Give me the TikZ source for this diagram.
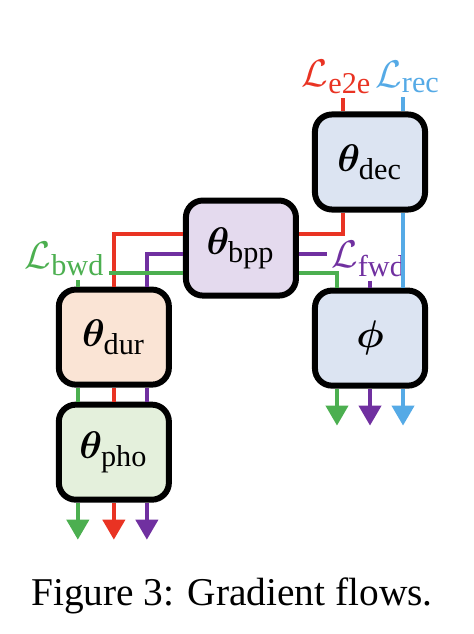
\documentclass[tikz,border=0pt]{standalone}
\usepackage{fontspec}
\setmainfont{Liberation Serif}
\usepackage{amsmath}
\usepackage{bm}
\DeclareMathSizes{10.5}{10.5}{8.6}{6.5}
\usetikzlibrary{positioning, arrows.meta}
\definecolor{e2ecol}{RGB}{233,51,35}
\definecolor{reccol}{RGB}{85,170,230}
\definecolor{bwdcol}{RGB}{76,175,80}
\definecolor{fwdcol}{RGB}{112,48,160}
\definecolor{decfill}{RGB}{220,228,242}
\definecolor{bppfill}{RGB}{228,218,238}
\definecolor{durfill}{RGB}{250,228,213}
\definecolor{phofill}{RGB}{228,240,220}
\tikzset{
  block/.style = {draw, rectangle, rounded corners=0.17cm, line width=1.7pt,
    minimum width=1.10cm, minimum height=0.95cm, font=\fontsize{10.5}{12}\selectfont},
  loss/.style = {inner sep=1pt, font=\fontsize{10.5}{12}\selectfont},
  flow/.style = {line width=1.15pt},
  grad/.style = {flow, -{Triangle[width=0.22cm, length=0.2cm]}}
}

\begin{document}
\begin{tikzpicture}[x=0.01cm, y=-0.01cm, on grid]
  \useasboundingbox (0,0) rectangle (474,634);

  \node [block, fill=decfill] (dec) at (370,162) {$\bm{\theta}_{\mathrm{dec}}$};
  \node [block, fill=bppfill, below left=0.86cm and 1.29cm of dec] (bpp) {$\bm{\theta}_{\mathrm{bpp}}$};
  \node [block, fill=durfill, below left=0.89cm and 1.27cm of bpp] (dur) {$\bm{\theta}_{\mathrm{dur}}$};
  \node [block, fill=phofill, below=1.15cm of dur] (pho) {$\bm{\theta}_{\mathrm{pho}}$};
  \node [block, fill=decfill, below=1.76cm of dec] (phi) {$\bm{\phi}$};

  \node [loss, text=e2ecol] (le2e) at (337,77) {$\mathcal{L}_{\mathrm{e2e}}$};
  \node [loss, text=reccol] (lrec) at (408,77) {$\mathcal{L}_{\mathrm{rec}}$};
  \node [loss, text=fwdcol] (lfwd) at (369,259) {$\mathcal{L}_{\mathrm{fwd}}$};
  \node [loss, text=bwdcol] (lbwd) at (65,259) {$\mathcal{L}_{\mathrm{bwd}}$};

  % e2e
  \draw [flow, e2ecol] ([xshift=-0.27cm]dec.north) -- ([xshift=-0.27cm]dec.north |- le2e.south);
  \draw [flow, e2ecol] ([xshift=-0.27cm]dec.south) |- ([yshift=0.14cm]bpp.east);
  \draw [flow, e2ecol] ([yshift=0.14cm]bpp.west) -| (dur.north);
  \draw [flow, e2ecol] (dur.south) -- (pho.north);
  \draw [grad, e2ecol] (pho.south) -- ++(0,37);

  % rec
  \draw [flow, reccol] ([xshift=0.33cm]dec.north) -- ([xshift=0.33cm]dec.north |- lrec.south);
  \draw [flow, reccol] ([xshift=0.33cm]dec.south) -- ([xshift=0.33cm]phi.north);
  \draw [grad, reccol] ([xshift=0.33cm]phi.south) -- ++(0,37);

  % fwd
  \draw [flow, fwdcol] ([yshift=-0.06cm]bpp.east) -- ([yshift=-0.06cm]bpp.east -| lfwd.west);
  \draw [flow, fwdcol] (lfwd.south -| phi.north) -- (phi.north);
  \draw [grad, fwdcol] (phi.south) -- ++(0,37);
  \draw [flow, fwdcol] ([yshift=-0.06cm]bpp.west) -| ([xshift=0.33cm]dur.north);
  \draw [flow, fwdcol] ([xshift=0.33cm]dur.south) -- ([xshift=0.33cm]pho.north);
  \draw [grad, fwdcol] ([xshift=0.33cm]pho.south) -- ++(0,37);

  % bwd
  \draw [flow, bwdcol] ([yshift=-0.25cm]bpp.east) -| ([xshift=-0.33cm]phi.north);
  \draw [grad, bwdcol] ([xshift=-0.33cm]phi.south) -- ++(0,37);
  \draw [flow, bwdcol] ([yshift=-0.25cm]bpp.west) -- ([yshift=-0.25cm]bpp.west -| lbwd.east);
  \draw [flow, bwdcol] ([xshift=-0.36cm]dur.north) -- ([xshift=-0.36cm]dur.north |- lbwd.south);
  \draw [flow, bwdcol] ([xshift=-0.36cm]dur.south) -- ([xshift=-0.36cm]pho.north);
  \draw [grad, bwdcol] ([xshift=-0.36cm]pho.south) -- ++(0,37);

  \node (caption) at (232,596) {\fontsize{11.2}{13.5}\selectfont Figure 3: Gradient flows.};
\end{tikzpicture}
\end{document}
